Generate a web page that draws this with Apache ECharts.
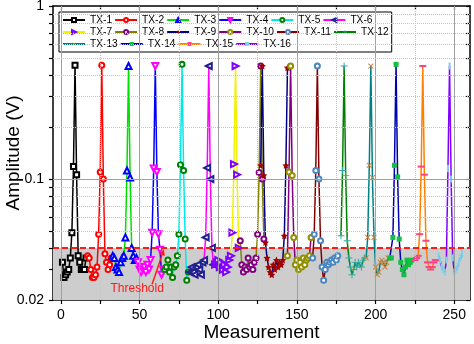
<!DOCTYPE html>
<html><head><meta charset="utf-8">
<script src="https://cdn.jsdelivr.net/npm/echarts@6/dist/echarts.min.js"></script>
<style>html,body{margin:0;padding:0;background:#fff}#c{width:474px;height:344px}</style>
</head><body><div id="c"></div>
<script>
// ---------- data ----------
const names = ['TX-1','TX-2','TX-3','TX-4','TX-5','TX-6','TX-7','TX-8','TX-9','TX-10','TX-11','TX-12','TX-13','TX-14','TX-15','TX-16'];
const startX = [1,17,33,49,66,82,98,114,127,144,160,178,194,209,225,240];
const tx1  = [0.033,0.027,0.028,0.029,0.030,0.035,0.049,0.118,0.455,0.106,0.036,0.033,0.030,0.030,0.030,0.035];
const tx2  = [0.036,0.035,0.030,0.027,0.027,0.028,0.031,0.048,0.110,0.455,0.100,0.037,0.033,0.030,0.032,0.035];
const tx3  = [0.036,0.035,0.031,0.030,0.029,0.033,0.035,0.036,0.046,0.112,0.450,0.102,0.040,0.036,0.034,0.035];
const tx4  = [0.033,0.030,0.029,0.030,0.031,0.029,0.032,0.030,0.034,0.049,0.115,0.450,0.110,0.048,0.039,0.028,0.030];
const tx5  = [0.030,0.031,0.034,0.029,0.031,0.027,0.031,0.032,0.036,0.048,0.121,0.460,0.112,0.045,0.026,0.029];
const tx6  = [0.029,0.031,0.029,0.028,0.031,0.032,0.030,0.028,0.033,0.034,0.046,0.116,0.450,0.100,0.040,0.032];
const tx7  = [0.032,0.033,0.034,0.031,0.033,0.030,0.032,0.029,0.031,0.034,0.036,0.049,0.122,0.450,0.106,0.040];
const tx8  = [0.044,0.032,0.029,0.031,0.030,0.035,0.031,0.032,0.030,0.033,0.035,0.048,0.109,0.450,0.100,0.045];
const tx9  = [0.120,0.450,0.105,0.043,0.035,0.031,0.029,0.028,0.032,0.030,0.034,0.031,0.033,0.032,0.034,0.047,0.120,0.440];
const tx10 = [0.036,0.110,0.450,0.105,0.046,0.032,0.034,0.030,0.033,0.031,0.035,0.032,0.034,0.035,0.036,0.046];
const tx11 = [0.035,0.048,0.112,0.450,0.100,0.044,0.031,0.026,0.030,0.033,0.032,0.033,0.034,0.033,0.035,0.034,0.036];
const tx12 = [0.047,0.112,0.450,0.105,0.044,0.035,0.031,0.028,0.030,0.033,0.031,0.033,0.032,0.031,0.034,0.035];
const tx13 = [0.035,0.046,0.120,0.450,0.102,0.046,0.031,0.028,0.029,0.033,0.034,0.033,0.031,0.033,0.035];
const tx14 = [0.035,0.035,0.046,0.120,0.460,0.103,0.045,0.033,0.030,0.028,0.031,0.034,0.032,0.033,0.034];
const tx15 = [0.034,0.035,0.036,0.048,0.118,0.450,0.106,0.044,0.033,0.031,0.030,0.031,0.033,0.034,0.034];
const tx16 = [0.036,0.034,0.031,0.030,0.029,0.034,0.115,0.450,0.100,0.035,0.029,0.030,0.031,0.033,0.035,0.037];
const values = [tx1,tx2,tx3,tx4,tx5,tx6,tx7,tx8,tx9,tx10,tx11,tx12,tx13,tx14,tx15,tx16];

const xTickLabels = [0,50,100,150,200,250];
const xMinorTicks = [25,75,125,175,225];
const yTickLabels = [0.02,0.1,1];
const yMinorTicks = [0.03,0.04,0.05,0.06,0.07,0.08,0.09,0.2,0.3,0.4,0.5,0.6,0.7,0.8,0.9];
const threshold = 0.04;
const thresholdText = 'Threshold';
const arrowFrom = [58, 0.0247];
const arrowTo = [65.5, 0.0393];
const textAt = [48.5, 0.0232];

// ---------- style ----------
const FONT = 'Liberation Sans, Arial, sans-serif';
const RED = '#ff1a1a';
const STAR = 'path://M0,-10 L2.9,-4 L9.5,-3.1 L4.8,1.5 L5.9,8.1 L0,5 L-5.9,8.1 L-4.8,1.5 L-9.5,-3.1 L-2.9,-4 Z';
const PLUS = 'path://M-0.7,-5 L0.7,-5 L0.7,-0.7 L5,-0.7 L5,0.7 L0.7,0.7 L0.7,5 L-0.7,5 L-0.7,0.7 L-5,0.7 L-5,-0.7 L-0.7,-0.7 Z';
const lineColors = ['#000000','#ff0000','#00e000','#0000ff','#00e8e8','#ff00ff','#f2f200','#808000','#000080','#800080','#800000','#008000','#008080','#0000b0','#ff8000','#8000ff'];
const symColors  = ['#000000','#ff0000','#0000ff','#ff00ff','#008000','#202090','#8000ff','#800080','#a00000','#909000','#4a86c0','#30a8a8','#c8843c','#10c040','#ff4088','#80d0e8'];
const symbols = ['emptyRect','emptyCircle','emptyTriangle','emptyTriangle','emptyCircle','emptyTriangle','emptyTriangle','emptyCircle',STAR,'emptyCircle','emptyCircle',PLUS,PLUS,'rect','rect','rect'];
const rotates = [0,0,0,180,0,90,-90,0,0,0,0,0,45,0,0,0];
const sizes = [5,5,6,6,5,6,6,5,7,5,5,7,7,5,[7,2],[2,7]];

const series = names.map((n, i) => ({
  name: n, type: 'line', z: 2,
  data: values[i].map((v, k) => [startX[i] + k, v]),
  symbol: symbols[i], symbolSize: sizes[i], symbolRotate: rotates[i], showAllSymbol: true,
  lineStyle: { color: lineColors[i], width: 1.5 },
  itemStyle: { color: symColors[i], borderWidth: 1 },
  emphasis: { disabled: true }
}));

const gridLines = []
  .concat(xTickLabels.map(v => ({ xAxis: v, lineStyle: { color: '#a0a0a0', width: 1, type: 'solid' } })))
  .concat(xMinorTicks.map(v => ({ xAxis: v, lineStyle: { color: '#c4c4c4', width: 1, type: 'dotted' } })))
  .concat([{ yAxis: 0.1, lineStyle: { color: '#a0a0a0', width: 1, type: 'solid' } }])
  .concat(yMinorTicks.filter(v => v > threshold).map(v => ({ yAxis: v, lineStyle: { color: '#c4c4c4', width: 1, type: 'dotted' } })));

series.unshift({
  name: '_bg', type: 'line', data: [], z: 0, silent: true,
  markArea: { silent: true, itemStyle: { color: '#cdcdcd' }, data: [[{ yAxis: 0.02 }, { yAxis: threshold }]] }
});
series.unshift({
  name: '_grid', type: 'line', data: [], z: 1, silent: true,
  markLine: { silent: true, symbol: ['none', 'none'], label: { show: false }, data: gridLines }
});
series.push({
  name: '_thr', type: 'line', data: [], z: 5, silent: true,
  markLine: {
    silent: true, symbol: ['none', 'none'], label: { show: false },
    lineStyle: { color: RED, width: 1.8, type: [6, 3] },
    data: [{ yAxis: threshold }]
  },
  markPoint: {
    silent: true,
    data: [{ coord: textAt, symbol: 'circle', symbolSize: 1, itemStyle: { color: 'rgba(0,0,0,0)' },
      label: { show: true, formatter: thresholdText, position: 'inside', color: RED, fontSize: 12, fontFamily: FONT } }]
  }
});
// arrow from the label to the threshold line (positioned through the axes)
series.push({
  name: '_arrow', type: 'custom', z: 6, silent: true,
  data: [[arrowFrom[0], arrowFrom[1], arrowTo[0], arrowTo[1]]],
  encode: { x: [0, 2], y: [1, 3] },
  renderItem: function (params, api) {
    const a = api.coord([api.value(0), api.value(1)]);
    const b = api.coord([api.value(2), api.value(3)]);
    const ang = Math.atan2(b[1] - a[1], b[0] - a[0]);
    const L = 6, W = 3;
    const bx = b[0] - L * Math.cos(ang), by = b[1] - L * Math.sin(ang);
    const px = -Math.sin(ang) * W, py = Math.cos(ang) * W;
    return { type: 'group', children: [
      { type: 'line', shape: { x1: a[0], y1: a[1], x2: bx, y2: by }, style: { stroke: RED, lineWidth: 1.5 } },
      { type: 'polygon', shape: { points: [[b[0], b[1]], [bx + px, by + py], [bx - px, by - py]] }, style: { fill: RED } }
    ] };
  }
});

const axisLine = { show: true, onZero: false, lineStyle: { color: '#000', width: 1.5 } };
const xTicksAll = xTickLabels.concat(xMinorTicks).sort((a, b) => a - b);
const yTicksAll = yTickLabels.concat(yMinorTicks).sort((a, b) => a - b);

const option = {
  animation: false,
  backgroundColor: '#fff',
  grid: { left: 53, right: 4, top: 6, bottom: 44, containLabel: false, outerBoundsMode: 'none' },
  legend: {
    data: names, left: 59, top: 12, width: 340, orient: 'horizontal',
    itemWidth: 22, itemHeight: 5, itemGap: 2, padding: [3, 3],
    borderColor: '#000', borderWidth: 1, backgroundColor: '#fff', borderRadius: 0,
    textStyle: { fontSize: 10.2, fontFamily: FONT, color: '#000' },
    selectedMode: false
  },
  xAxis: [
    { type: 'value', min: -5, max: 260, position: 'bottom',
      axisLine: axisLine,
      axisTick: { show: true, inside: false, length: 4, customValues: xTicksAll, lineStyle: { color: '#000', width: 1.2 } },
      axisLabel: { customValues: xTickLabels, fontSize: 14, color: '#000', margin: 8, fontFamily: FONT },
      splitLine: { show: false },
      name: 'Measurement', nameLocation: 'middle', nameGap: 23, nameMoveOverlap: false,
      nameTextStyle: { fontSize: 19, color: '#000', fontFamily: FONT } },
    { type: 'value', min: -5, max: 260, position: 'top',
      axisLine: axisLine,
      axisTick: { show: true, inside: true, length: 4, customValues: xTicksAll, lineStyle: { color: '#000', width: 1.2 } },
      axisLabel: { show: false }, splitLine: { show: false } }
  ],
  yAxis: [
    { type: 'log', logBase: 10, min: 0.02, max: 1, position: 'left',
      axisLine: axisLine,
      axisTick: { show: true, inside: false, length: 4, customValues: yTicksAll, lineStyle: { color: '#000', width: 1.2 } },
      axisLabel: { customValues: yTickLabels, fontSize: 14, color: '#000', margin: 9, fontFamily: FONT,
        formatter: v => String(Math.round(v * 100) / 100) },
      splitLine: { show: false },
      name: 'Amplitude (V)', nameLocation: 'middle', nameGap: 30, nameRotate: 90, nameMoveOverlap: false,
      nameTextStyle: { fontSize: 19, color: '#000', fontFamily: FONT } },
    { type: 'log', logBase: 10, min: 0.02, max: 1, position: 'right',
      axisLine: axisLine,
      axisTick: { show: true, inside: true, length: 4, customValues: yTicksAll, lineStyle: { color: '#000', width: 1.2 } },
      axisLabel: { show: false }, splitLine: { show: false } }
  ],
  series: series
};
const chart = echarts.init(document.getElementById('c'), null, { renderer: 'canvas' });
chart.setOption(option);
</script></body></html>
